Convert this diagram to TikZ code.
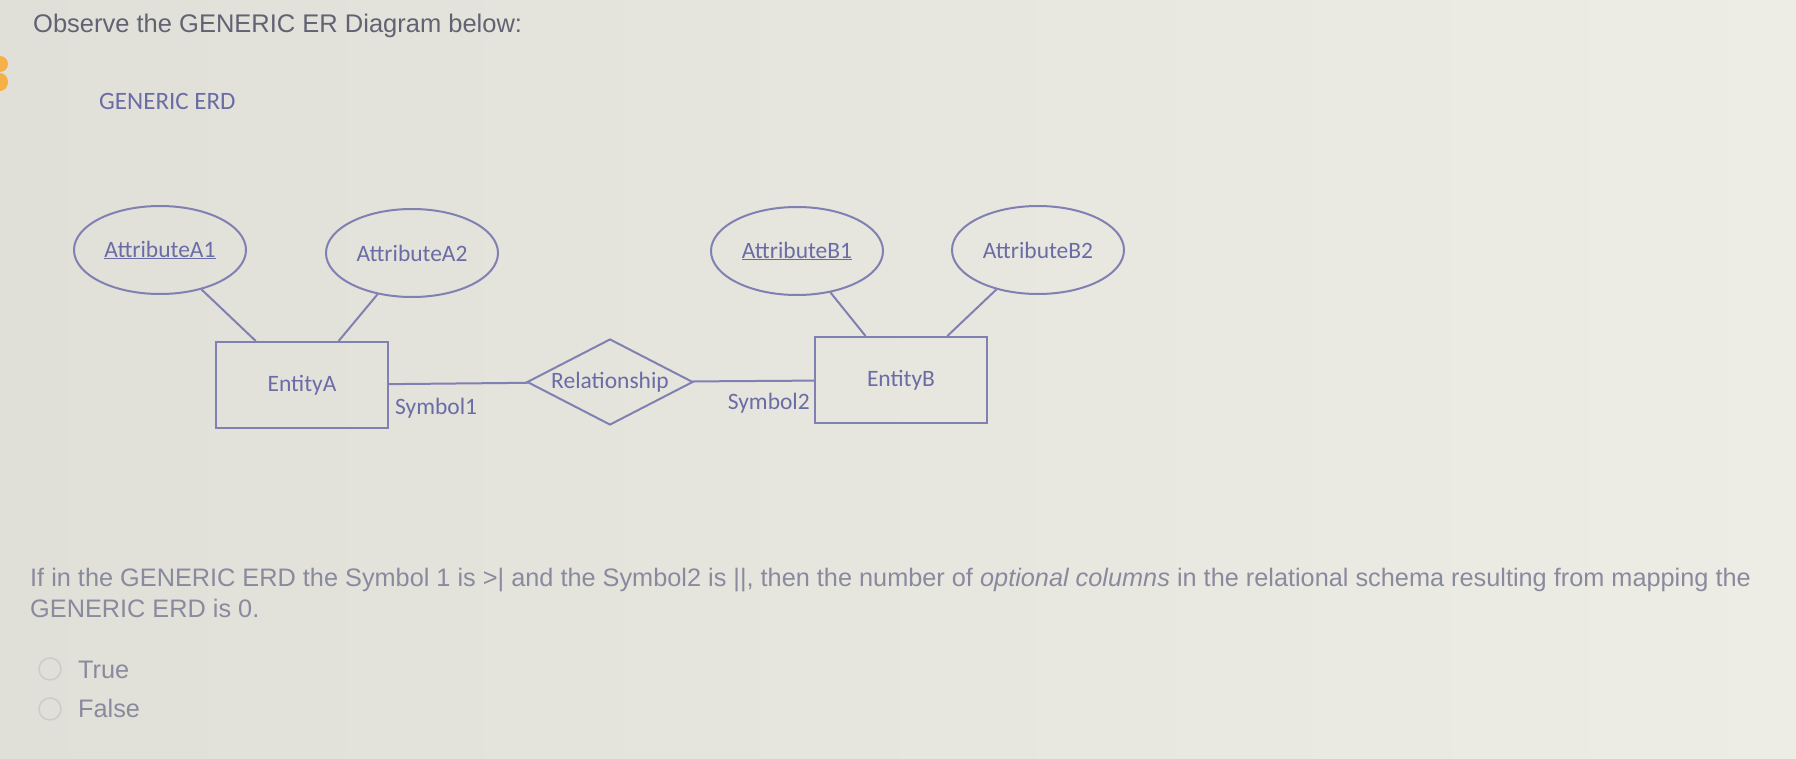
\documentclass[tikz,border=0pt]{standalone}
\usepackage{fontspec}
\setmainfont{Liberation Sans}
\newfontfamily\erdfont{Carlito}
\usetikzlibrary{shapes.geometric}
\definecolor{bgL}{RGB}{224,224,217}
\definecolor{bgR}{RGB}{237,236,229}
\definecolor{erdline}{RGB}{128,128,178}
\definecolor{erdtext}{RGB}{106,108,165}
\definecolor{qtext}{RGB}{138,138,158}
\definecolor{ttext}{RGB}{98,98,116}
\definecolor{blob}{RGB}{246,176,70}
\begin{document}
\begin{tikzpicture}[x=1pt,y=-1pt,
	erd/.style={draw=erdline,line width=2pt,text=erdtext,font=\erdfont\fontsize{23.5}{26}\selectfont,inner sep=0pt},
	attr/.style={erd,ellipse,minimum width=172pt,minimum height=88pt},
	ent/.style={erd,rectangle,minimum width=172pt,minimum height=86pt},
	relbox/.style={erd,diamond,shape aspect=2,minimum width=166pt,minimum height=86pt},
	lbl/.style={text=erdtext,font=\erdfont\fontsize{23.5}{26}\selectfont,inner sep=0pt},
	qst/.style={text=qtext,font=\fontsize{25.3}{29}\selectfont,inner sep=0pt,anchor=base west},
	radio/.style={circle,draw=gray!40,line width=1.5pt,minimum size=22pt,inner sep=0pt}]
	% nen man hinh
	\shade[left color=bgL,right color=bgR] (0,0) rectangle (1796,759);
	\useasboundingbox (0,0) rectangle (1796,759);
	\fill[blob] (0,64) ellipse (8 and 8) (0,82) ellipse (8 and 9);
	% cau hoi
	\node[anchor=base west,inner sep=0pt,text=ttext,font=\fontsize{25.5}{30}\selectfont] (title) at (33,33) {Observe the GENERIC ER Diagram below:};
	\node[lbl,anchor=base west,font=\erdfont\fontsize{25}{28}\selectfont] (erd) at (99,110) {GENERIC ERD};
	% so do ER
	\node[attr] (attA1) at (160,250) {\underline{AttributeA1}};
	\node[attr] (attA2) at (412,253) {AttributeA2};
	\node[attr] (attB1) at (797,251) {\underline{AttributeB1}};
	\node[attr] (attB2) at (1038,250) {AttributeB2};
	\node[ent] (entA) at (302,385) {EntityA};
	\node[ent] (entB) at (901,380) {EntityB};
	\node[relbox] (rel) at (610,382) {Relationship};
	\node[lbl,anchor=west] (sym1) at (395,408) {Symbol1};
	\node[lbl,anchor=east] (sym2) at (810,403) {Symbol2};
	\draw[erdline,line width=2pt] (attA1) -- (entA) (attA2) -- (entA)
		(attB1) -- (entB) (attB2) -- (entB)
		(entA) -- (rel) -- (entB);
	% dong cau hoi va lua chon
	\node[qst] (q1) at (30,586) {If in the GENERIC ERD the Symbol 1 is >| and the Symbol2 is ||, then the number of \textit{optional columns} in the relational schema resulting from mapping the};
	\node[qst] (q2) at (30,617) {GENERIC ERD is 0.};
	\node[radio] (optT) at (50,669) {};
	\node[radio] (optF) at (50,709) {};
	\node[qst] (tT) at (78,678) {True};
	\node[qst] (tF) at (78,717) {False};
\end{tikzpicture}
\end{document}
